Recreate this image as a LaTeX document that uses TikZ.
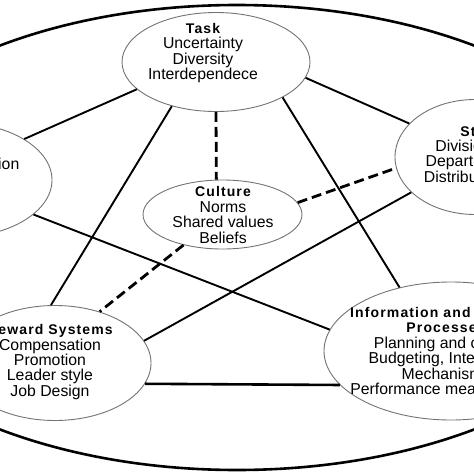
\documentclass[tikz,border=0pt]{standalone}
\usepackage{fontspec}
\setmainfont{Liberation Sans}
\newfontfamily\headfont[LetterSpace=8]{Liberation Sans}
\usetikzlibrary{shapes}
\newcommand{\titulo}[1]{{\headfont\bfseries\fontsize{14}{15.4}\selectfont #1}}

\begin{document}
\begin{tikzpicture}[x=1pt, y=-1pt]
  \tikzstyle{factor}=[ellipse, draw=black!55, line width=0.9pt, inner sep=0pt]
  \tikzstyle{texto}=[align=center, inner sep=0pt, font=\fontsize{15.8}{15.4}\selectfont]
  \tikzstyle{enlace}=[line width=1.9pt]
  \tikzstyle{cultura}=[line width=2.8pt, dash pattern=on 10pt off 5pt]

  \useasboundingbox (0,0) rectangle (474,474);
  \clip (0,0) rectangle (474,474);

  % Marco exterior
  \node[ellipse, draw, line width=2.6pt, minimum width=840pt, minimum height=465pt, inner sep=0pt] (marco) at (237,237.5) {};

  % Factores
  \node[factor, minimum width=188pt, minimum height=99pt] (task) at (216,62) {};
  \node[factor, minimum width=159pt, minimum height=69pt] (culture) at (222.5,214.5) {};
  \node[factor, minimum width=160pt, minimum height=115pt] (structure) at (475,157) {};
  \node[factor, minimum width=254pt, minimum height=138pt] (info) at (451,351) {};
  \node[factor, minimum width=192pt, minimum height=115pt] (reward) at (55,363) {};
  \node[factor, minimum width=192pt, minimum height=115pt] (people) at (-44,180) {};

  % Textos
  \node[texto] (tasktxt) at (203,53) {\titulo{Task}\\Uncertainty\\Diversity\\Interdependece};
  \node[texto] (culturetxt) at (223,215) {\titulo{Culture}\\Norms\\Shared values\\Beliefs};
  \node[texto] (structuretxt) at (496,156) {\titulo{Structure}\\Division of labour\\Departmentalization\\Distribution of power};
  \node[texto] (infotxt) at (446,351) {\titulo{Information and Decision}\\\titulo{Processes}\\Planning and control\\Budgeting, Integration\\Mechanisms\\Performance measurement};
  \node[texto] (rewardtxt) at (50,362) {\titulo{Reward Systems}\\Compensation\\Promotion\\Leader style\\Job Design};
  \node[texto, anchor=east] (peopletxt) at (19.5,164) {Selection};

  % Conexiones
  \draw[enlace] (task.199.5) -- (people.31);
  \draw[enlace] (task.350) -- (structure.153);
  \draw[enlace] (task.225) -- (reward.94);
  \draw[enlace] (task.332) -- (info.129);
  \draw[enlace] (people.336.6) -- (info.170.6);
  \draw[enlace] (structure.209) -- (reward.14);
  \draw[enlace, line width=2.6pt] (reward.347) -- (info.197);
  \draw[cultura] (task.270) -- (culture.100.7);
  \draw[cultura] (culture.9) -- (structure.188);
  \draw[cultura] (culture.218) -- (reward.49);
\end{tikzpicture}
\end{document}
